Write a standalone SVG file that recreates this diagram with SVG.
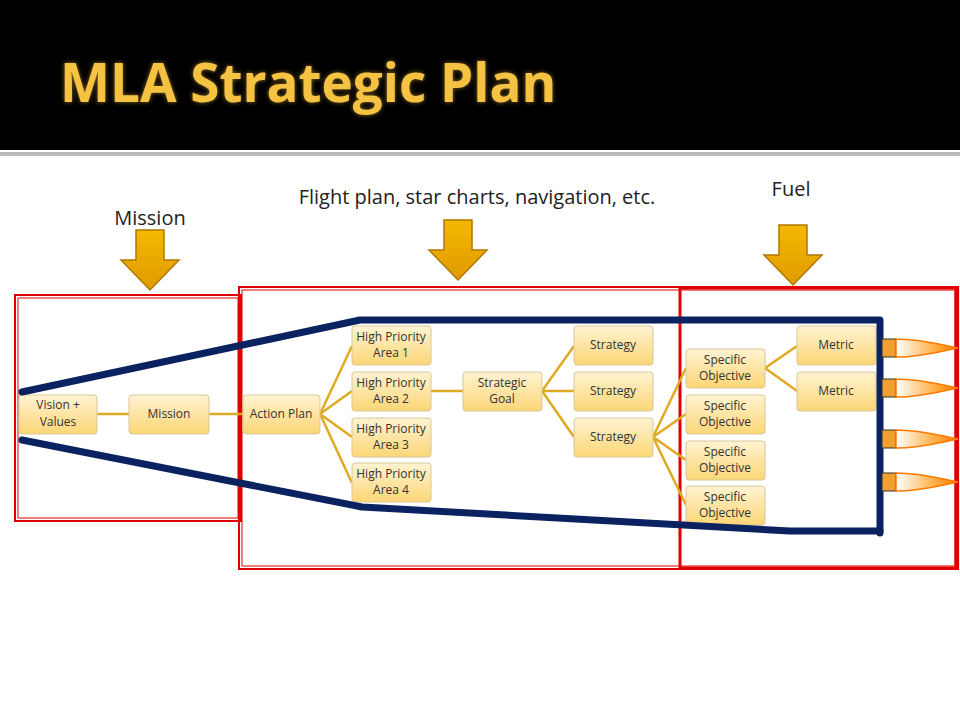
<svg xmlns="http://www.w3.org/2000/svg" width="960" height="720" viewBox="0 0 960 720">
<defs>
<linearGradient id="ng" x1="0" y1="0" x2="0" y2="1"><stop offset="0" stop-color="#fff3d2"/><stop offset="1" stop-color="#fcd676"/></linearGradient>
<linearGradient id="ag" x1="0" y1="0" x2="0" y2="1"><stop offset="0" stop-color="#f5b800"/><stop offset="1" stop-color="#e09a00"/></linearGradient>
<linearGradient id="fl" x1="0" y1="0" x2="1" y2="0"><stop offset="0" stop-color="#fff"/><stop offset="0.6" stop-color="#ffb24a"/><stop offset="1" stop-color="#ff7a00"/></linearGradient>
<filter id="glow"><feGaussianBlur stdDeviation="2"/></filter>
<g id="flame"><rect x="0" y="-9" width="14" height="18" fill="#f0a030" stroke="#333" stroke-width="1"/><path d="M14,-9 C40,-9 55,-4 76,0 C55,4 40,9 14,9 Z" fill="url(#fl)" stroke="#ff7a00" stroke-width="1.5"/></g>
<g id="arrow"><path d="M-14,0 H14 V30 H29 L0,60 L-29,30 H-14 Z" fill="url(#ag)" stroke="#b07800" stroke-width="1.5"/></g>
</defs>
<style>
.n rect{fill:url(#ng);stroke:#d8c79a;stroke-width:1}
.n text{font-family:"Open Sans","Liberation Sans",sans-serif;font-size:12px;fill:#333;text-anchor:middle}
.c line,.c path{stroke:#e0aa20;stroke-width:2.5;fill:none}
.l{font-family:"Open Sans","Liberation Sans",sans-serif;font-size:20px;fill:#222;text-anchor:middle}
</style>
<rect width="960" height="720" fill="#fff"/>
<rect width="960" height="150" fill="#000"/>
<rect y="152" width="960" height="4" fill="#bbb"/>
<text x="60" y="102" font-family="Open Sans,Liberation Sans,sans-serif" font-weight="bold" font-size="53" fill="#f7c34c" stroke="#b8860b" stroke-width="1" opacity="0.5" filter="url(#glow)">MLA Strategic Plan</text>
<text x="60" y="102" font-family="Open Sans,Liberation Sans,sans-serif" font-weight="bold" font-size="53" fill="#f5c242">MLA Strategic Plan</text>
<text class="l" x="150" y="225">Mission</text>
<text class="l" x="477" y="204">Flight plan, star charts, navigation, etc.</text>
<text class="l" x="791" y="196">Fuel</text>
<use href="#arrow" x="150" y="230"/>
<use href="#arrow" x="458" y="220"/>
<use href="#arrow" x="793" y="225"/>
<g fill="none" stroke="#e00000">
<rect x="15" y="295" width="226" height="226" stroke-width="2"/><rect x="18" y="298" width="220" height="220" stroke-width="1"/>
<rect x="239" y="287" width="719" height="282" stroke-width="2"/><rect x="242" y="290" width="713" height="276" stroke-width="1"/>
<rect x="680" y="288" width="276" height="280" stroke-width="3"/>
</g>
<g class="c">
<line x1="97" y1="414" x2="129" y2="414"/><line x1="209" y1="414" x2="243" y2="414"/>
<path d="M320,414 L352,346 M320,414 L352,391 M320,414 L352,437 M320,414 L352,483"/>
<line x1="431" y1="391" x2="463" y2="391"/>
<path d="M542,391 L574,346 M542,391 L574,391 M542,391 L574,437"/>
<path d="M653,437 L686,368 M653,437 L686,414 M653,437 L686,460 M653,437 L686,505"/>
<path d="M765,368 L797,346 M765,368 L797,391"/>
</g>
<g id="nodes">
<g class="n" id="vision"><rect x="19" y="395" width="78" height="39" rx="3"/><text x="58" y="409">Vision +</text><text x="58" y="426">Values</text></g>
<g class="n" id="mission"><rect x="129" y="395" width="80" height="39" rx="3"/><text x="169" y="418">Mission</text></g>
<g class="n" id="action"><rect x="243" y="395" width="77" height="39" rx="3"/><text x="281" y="418">Action Plan</text></g>
<g class="n" id="hpa1"><rect x="352" y="326" width="79" height="39" rx="3"/><text x="391" y="341">High Priority</text><text x="391" y="357">Area 1</text></g>
<g class="n" id="hpa2"><rect x="352" y="372" width="79" height="39" rx="3"/><text x="391" y="387">High Priority</text><text x="391" y="403">Area 2</text></g>
<g class="n" id="hpa3"><rect x="352" y="418" width="79" height="39" rx="3"/><text x="391" y="433">High Priority</text><text x="391" y="449">Area 3</text></g>
<g class="n" id="hpa4"><rect x="352" y="463" width="79" height="39" rx="3"/><text x="391" y="478">High Priority</text><text x="391" y="494">Area 4</text></g>
<g class="n" id="goal"><rect x="463" y="372" width="79" height="39" rx="3"/><text x="502" y="387">Strategic</text><text x="502" y="403">Goal</text></g>
<g class="n" id="s1"><rect x="574" y="326" width="79" height="39" rx="3"/><text x="613" y="349">Strategy</text></g>
<g class="n" id="s2"><rect x="574" y="372" width="79" height="39" rx="3"/><text x="613" y="395">Strategy</text></g>
<g class="n" id="s3"><rect x="574" y="418" width="79" height="39" rx="3"/><text x="613" y="441">Strategy</text></g>
<g class="n" id="o1"><rect x="686" y="349" width="79" height="39" rx="3"/><text x="725" y="364">Specific</text><text x="725" y="380">Objective</text></g>
<g class="n" id="o2"><rect x="686" y="395" width="79" height="39" rx="3"/><text x="725" y="410">Specific</text><text x="725" y="426">Objective</text></g>
<g class="n" id="o3"><rect x="686" y="441" width="79" height="39" rx="3"/><text x="725" y="456">Specific</text><text x="725" y="472">Objective</text></g>
<g class="n" id="o4"><rect x="686" y="486" width="79" height="39" rx="3"/><text x="725" y="501">Specific</text><text x="725" y="517">Objective</text></g>
<g class="n" id="m1"><rect x="797" y="326" width="79" height="39" rx="3"/><text x="836" y="349">Metric</text></g>
<g class="n" id="m2"><rect x="797" y="372" width="79" height="39" rx="3"/><text x="836" y="395">Metric</text></g>
</g>
<g fill="none" stroke="#0a2260" stroke-width="7" stroke-linecap="round" stroke-linejoin="round">
<path d="M22,392 L360,320 L880,320 L880,533"/>
<path d="M22,440 L362,507 L790,531 L880,531"/>
</g>
<use href="#flame" x="882" y="348"/>
<use href="#flame" x="882" y="388"/>
<use href="#flame" x="882" y="439"/>
<use href="#flame" x="882" y="482"/>
</svg>
